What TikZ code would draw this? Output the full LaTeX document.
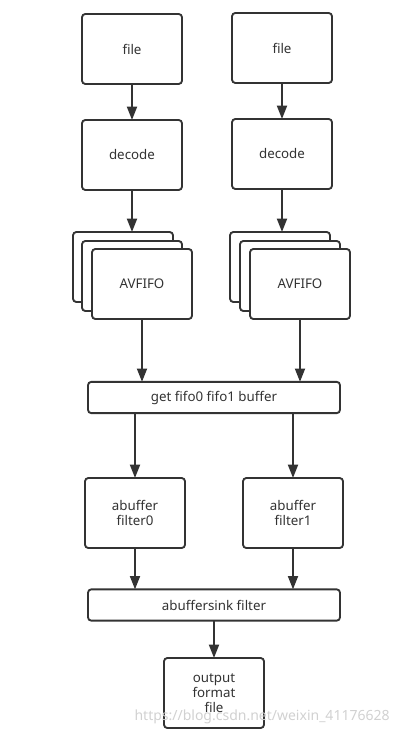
\documentclass[tikz,border=0pt]{standalone}
\usepackage{fontspec}
\setmainfont{Noto Sans}
\usetikzlibrary{arrows.meta}
\definecolor{ink}{HTML}{333333}

\begin{document}
\begin{tikzpicture}[x=0.75pt, y=-0.75pt, outer sep=0pt, font=\fontsize{10}{11.5}\selectfont]

\tikzstyle{box}=[draw=ink, line width=1.4pt, rounded corners=2.5pt, fill=white, text=ink, align=center, minimum width=75pt, minimum height=52.5pt, inner sep=0pt]
\tikzstyle{wide}=[box, minimum width=189pt, minimum height=23.5pt]
\tikzstyle{flow}=[draw=ink, line width=1.4pt, -{Triangle[length=10pt,width=7.5pt]}]

\useasboundingbox (0,0) rectangle (402,734);

\node[box] (fileA) at (132,49) {file}; \node[box] (fileB) at (282,48) {file};
\node[box] (decA) at (132,155) {decode}; \node[box] (decB) at (282,154) {decode};

\node[box] (fifoA3) at (123,267) {}; \node[box] (fifoA2) at (132,276) {}; \node[box] (fifoA) at (142,284) {AVFIFO};
\node[box] (fifoB3) at (280,267) {}; \node[box] (fifoB2) at (290,276) {}; \node[box] (fifoB) at (300,284) {AVFIFO};

\node[wide] (get) at (214,397.5) {get fifo0 fifo1 buffer};
\node[box] (filtA) at (135,513) {abuffer\\filter0}; \node[box] (filtB) at (293,513) {abuffer\\filter1};
\node[wide] (sink) at (214,605) {abuffersink filter};
\node[box] (out) at (214,693) {output\\format\\file};

\draw[flow] (fileA) -- (decA); \draw[flow] (fileB) -- (decB);
\draw[flow] (decA.south) -- (decA.south |- fifoA3.north); \draw[flow] (decB.south) -- (decB.south |- fifoB3.north);
\draw[flow] (fifoA.south) -- (fifoA.south |- get.north); \draw[flow] (fifoB.south) -- (fifoB.south |- get.north);
\draw[flow] (get.south -| filtA.north) -- (filtA.north); \draw[flow] (get.south -| filtB.north) -- (filtB.north);
\draw[flow] (filtA.south) -- (filtA.south |- sink.north); \draw[flow] (filtB.south) -- (filtB.south |- sink.north);
\draw[flow] (sink.south -| out.north) -- (out.north);

\node[anchor=east, text=black!18, font=\fontsize{10.5}{12}\selectfont] (mark) at (394,717) {https://blog.csdn.net/weixin\_41176628};

\end{tikzpicture}
\end{document}
